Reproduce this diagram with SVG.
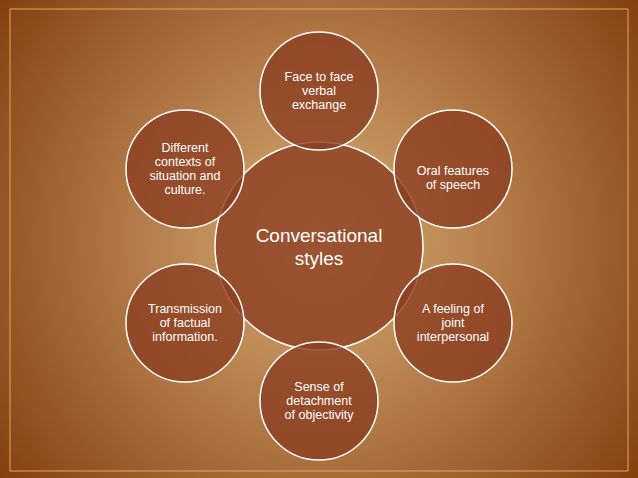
<svg xmlns="http://www.w3.org/2000/svg" width="638" height="478" viewBox="0 0 638 478">
<defs>
<radialGradient id="bg" cx="319" cy="239" r="400" gradientUnits="userSpaceOnUse">
<stop offset="0" stop-color="#d6ad74"/>
<stop offset="0.45" stop-color="#b47c4a"/>
<stop offset="1" stop-color="#84400f"/>
</radialGradient>
</defs>
<style>
.c{fill:#8c3f22;fill-opacity:0.82;stroke:#fff;stroke-width:1.5}
.t{font-family:"Liberation Sans",Arial,sans-serif;fill:#fff;text-anchor:middle;font-size:12.5px}
.m{font-size:19px}
</style>
<rect width="638" height="478" fill="url(#bg)"/>
<rect x="10" y="9" width="618" height="462" fill="none" stroke="#e8a552" stroke-width="1"/>
<g id="connectors"/>
<g id="center"><circle class="c" cx="319" cy="246" r="104"/>
<text class="t m" x="319" y="242">Conversational</text><text class="t m" x="319" y="265">styles</text></g>
<g id="n1"><circle class="c" cx="319" cy="91" r="59"/>
<text class="t" x="319" y="81">Face to face</text><text class="t" x="319" y="95">verbal</text><text class="t" x="319" y="109">exchange</text></g>
<g id="n2"><circle class="c" cx="453" cy="169" r="59"/>
<text class="t" x="453" y="175">Oral features</text><text class="t" x="453" y="189">of speech</text></g>
<g id="n3"><circle class="c" cx="453" cy="323" r="59"/>
<text class="t" x="453" y="313">A feeling of</text><text class="t" x="453" y="327">joint</text><text class="t" x="453" y="341">interpersonal</text></g>
<g id="n4"><circle class="c" cx="319" cy="401" r="59"/>
<text class="t" x="319" y="391">Sense of</text><text class="t" x="319" y="405">detachment</text><text class="t" x="319" y="419">of objectivity</text></g>
<g id="n5"><circle class="c" cx="185" cy="323" r="59"/>
<text class="t" x="185" y="313">Transmission</text><text class="t" x="185" y="327">of factual</text><text class="t" x="185" y="341">information.</text></g>
<g id="n6"><circle class="c" cx="185" cy="169" r="59"/>
<text class="t" x="185" y="152">Different</text><text class="t" x="185" y="166">contexts of</text><text class="t" x="185" y="180">situation and</text><text class="t" x="185" y="194">culture.</text></g>
</svg>
